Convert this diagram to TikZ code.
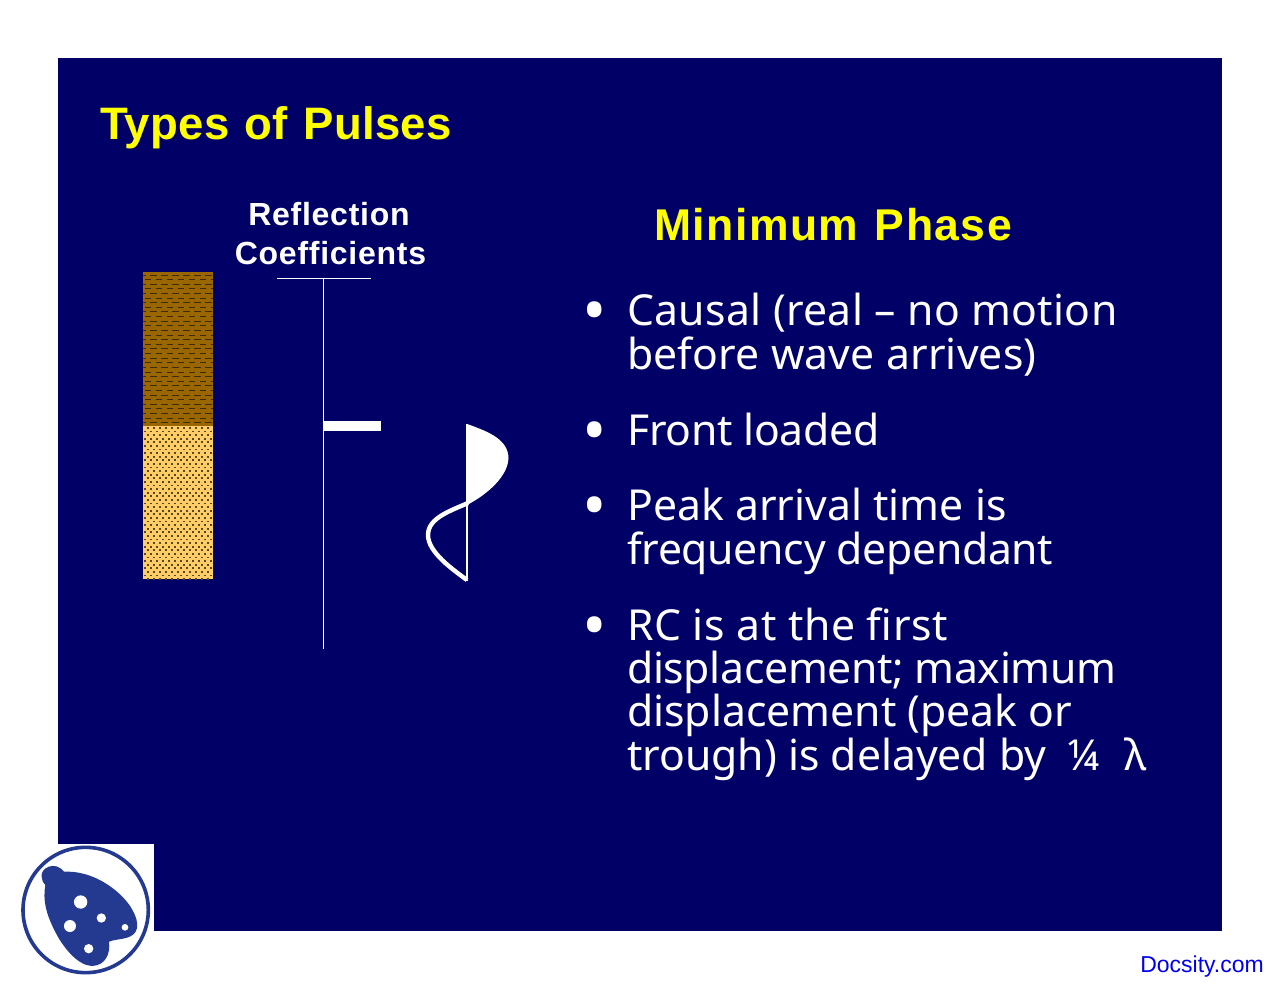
\documentclass[tikz,border=0pt]{standalone}
\usepackage{fontspec}
\setmainfont{Liberation Sans}
\newfontfamily\bodyfont{Noto Sans}
\newfontfamily\headfont[LetterSpace=0.6,WordSpace=1.2,Ligatures=NoCommon]{Liberation Sans Bold}
\newfontfamily\subfont[LetterSpace=3.3,WordSpace=1.2,Ligatures=NoCommon]{Liberation Sans Bold}
\newfontfamily\rcfont[LetterSpace=2.3,Ligatures=NoCommon]{Liberation Sans Bold}
\newcommand{\lsp}[2]{{\addfontfeature{LetterSpace=#1}#2}}
\definecolor{navybg}{HTML}{000066}
\definecolor{titley}{HTML}{FFFF00}
\definecolor{shalebrown}{HTML}{996600}
\definecolor{shaledash}{HTML}{3F2C10}
\definecolor{sandy}{HTML}{FFCC66}
\definecolor{sanddot}{HTML}{55481A}
\definecolor{logoblue}{HTML}{233A90}
\definecolor{linkblue}{HTML}{0000EE}
\tikzset{
  x=1pt,y=-1pt,
  heading/.style={anchor=base west,inner sep=0pt,text=titley,font=\headfont\fontsize{45.5}{45}\selectfont},
  subheading/.style={anchor=base west,inner sep=0pt,text=titley,font=\subfont\fontsize{44.5}{45}\selectfont},
  rclabel/.style={anchor=base,inner sep=0pt,text=white,font=\rcfont\fontsize{32}{39}\selectfont},
  bodytext/.style={anchor=base west,inner sep=0pt,text=white,align=left,font=\bodyfont\fontsize{42.7}{43.3}\selectfont},
  bulletmark/.style={anchor=base,inner sep=0pt,text=white,font=\bodyfont\fontsize{65}{65}\selectfont},
  thinwhite/.style={draw=white,line width=1pt},
}
\begin{document}
\begin{tikzpicture}
\useasboundingbox (0,0) rectangle (1280,989);
\fill[white] (0,0) rectangle (1280,989);
\fill[navybg] (58,58) rectangle (1222,931);
% headings
\node[heading] (title) at (100,139) {Types of Pulses};
\node[subheading] (minphase) at (654,240) {Minimum Phase};
\node[rclabel] (rc1) at (329,225) {Reflection};
\node[rclabel] (rc2) at (330.5,264) {Coefficients};
% lithology column
\fill[shalebrown] (143,272) rectangle (213,426);
\fill[sandy] (143,426) rectangle (213,579);
\begin{scope}
\clip (143,272) rectangle (213,426);
\foreach \r in {0,...,33}{
  \pgfmathsetmacro{\yy}{275+4.62*\r}
  \pgfmathsetmacro{\off}{mod(\r,2)*5.5}
  \foreach \c in {0,...,7}{
    \draw[shaledash,line width=1pt] ({139+\off+11*\c},\yy) -- ++(6.5,0);
  }
}
\end{scope}
\begin{scope}
\clip (143,426) rectangle (213,579);
\foreach \r in {0,...,43}{
  \pgfmathsetmacro{\yy}{427+3.6*\r}
  \pgfmathsetmacro{\off}{mod(\r,2)*3}
  \foreach \c in {0,...,13}{
    \fill[sanddot] ({141+\off+6*\c},\yy) rectangle ++(2.1,1.8);
  }
}
\end{scope}
% reflection coefficient axis
\coordinate (tl) at (277,278);
\coordinate (tr) at (371,278);
\coordinate (axt) at (323,278);
\coordinate (axb) at (323,649);
\draw[thinwhite] (tl) -- (tr);
\draw[thinwhite] (axt) -- (axb);
\fill[white] (323,421) rectangle (381,431);
% wavelet
\coordinate (wt) at (467,424);
\coordinate (wb) at (467,581);
\draw[white,line width=1.3pt] (wt) -- (wb);
\fill[white] (467,424) .. controls (490,432) and (508,440) .. (508.5,458)
  .. controls (508,476) and (488,494) .. (467,505) -- cycle;
\draw[white,line width=4.4pt,line join=round] (468,503)
  .. controls (450,511) and (428,518) .. (428,535)
  .. controls (428,552) and (452,569) .. (467,580);
% bullets
\node[bulletmark] (b1) at (595,333) {•};
\node[bulletmark] (b2) at (595,453) {•};
\node[bulletmark] (b3) at (595,528) {•};
\node[bulletmark] (b4) at (595,648) {•};
\node[bodytext] (t1) at (627,369) {\lsp{0.8}{Causal (real – no motion}\\\lsp{0.4}{before wave arrives)}};
\node[bodytext] (t2) at (627,445) {\lsp{-0.7}{Front loaded}};
\node[bodytext] (t3) at (627,564) {\lsp{0.1}{Peak arrival time is}\\\lsp{-0.7}{frequency dependant}};
\node[bodytext] (t4) at (627,770) {\lsp{1.3}{RC is at the first}\\\lsp{-0.8}{displacement; maximum}\\displacement (peak or\\trough) is delayed by\hspace{10pt} ¼\hspace{14pt} λ};
% logo
\fill[white] (16,844) rectangle (154,989);
\begin{scope}[shift={(0,830)},x=0.3333pt,y=-0.3333pt]
\draw[logoblue,line width=3.6pt] (257,240) ellipse [x radius=188,y radius=188];
\fill[logoblue] (125,140) .. controls (120,115) and (165,90) .. (192,125)
  .. controls (262,122) and (325,158) .. (365,198)
  .. controls (400,232) and (422,280) .. (407,305)
  .. controls (392,330) and (352,325) .. (327,335)
  .. controls (332,372) and (316,407) .. (275,408)
  .. controls (233,406) and (188,352) .. (163,300)
  .. controls (138,250) and (128,210) .. (136,165)
  .. controls (130,160) and (125,150) .. (125,140) -- cycle;
\fill[white] (242,216) circle (20);
\fill[white] (304,264) circle (14);
\fill[white] (210,288) circle (18);
\fill[white] (375,292) circle (10);
\fill[white] (266,356) circle (14);
\end{scope}
\node[anchor=base east,inner sep=0pt,text=linkblue,font=\fontsize{23}{22}\selectfont] (src) at (1264,972) {Docsity.com};
\end{tikzpicture}
\end{document}
